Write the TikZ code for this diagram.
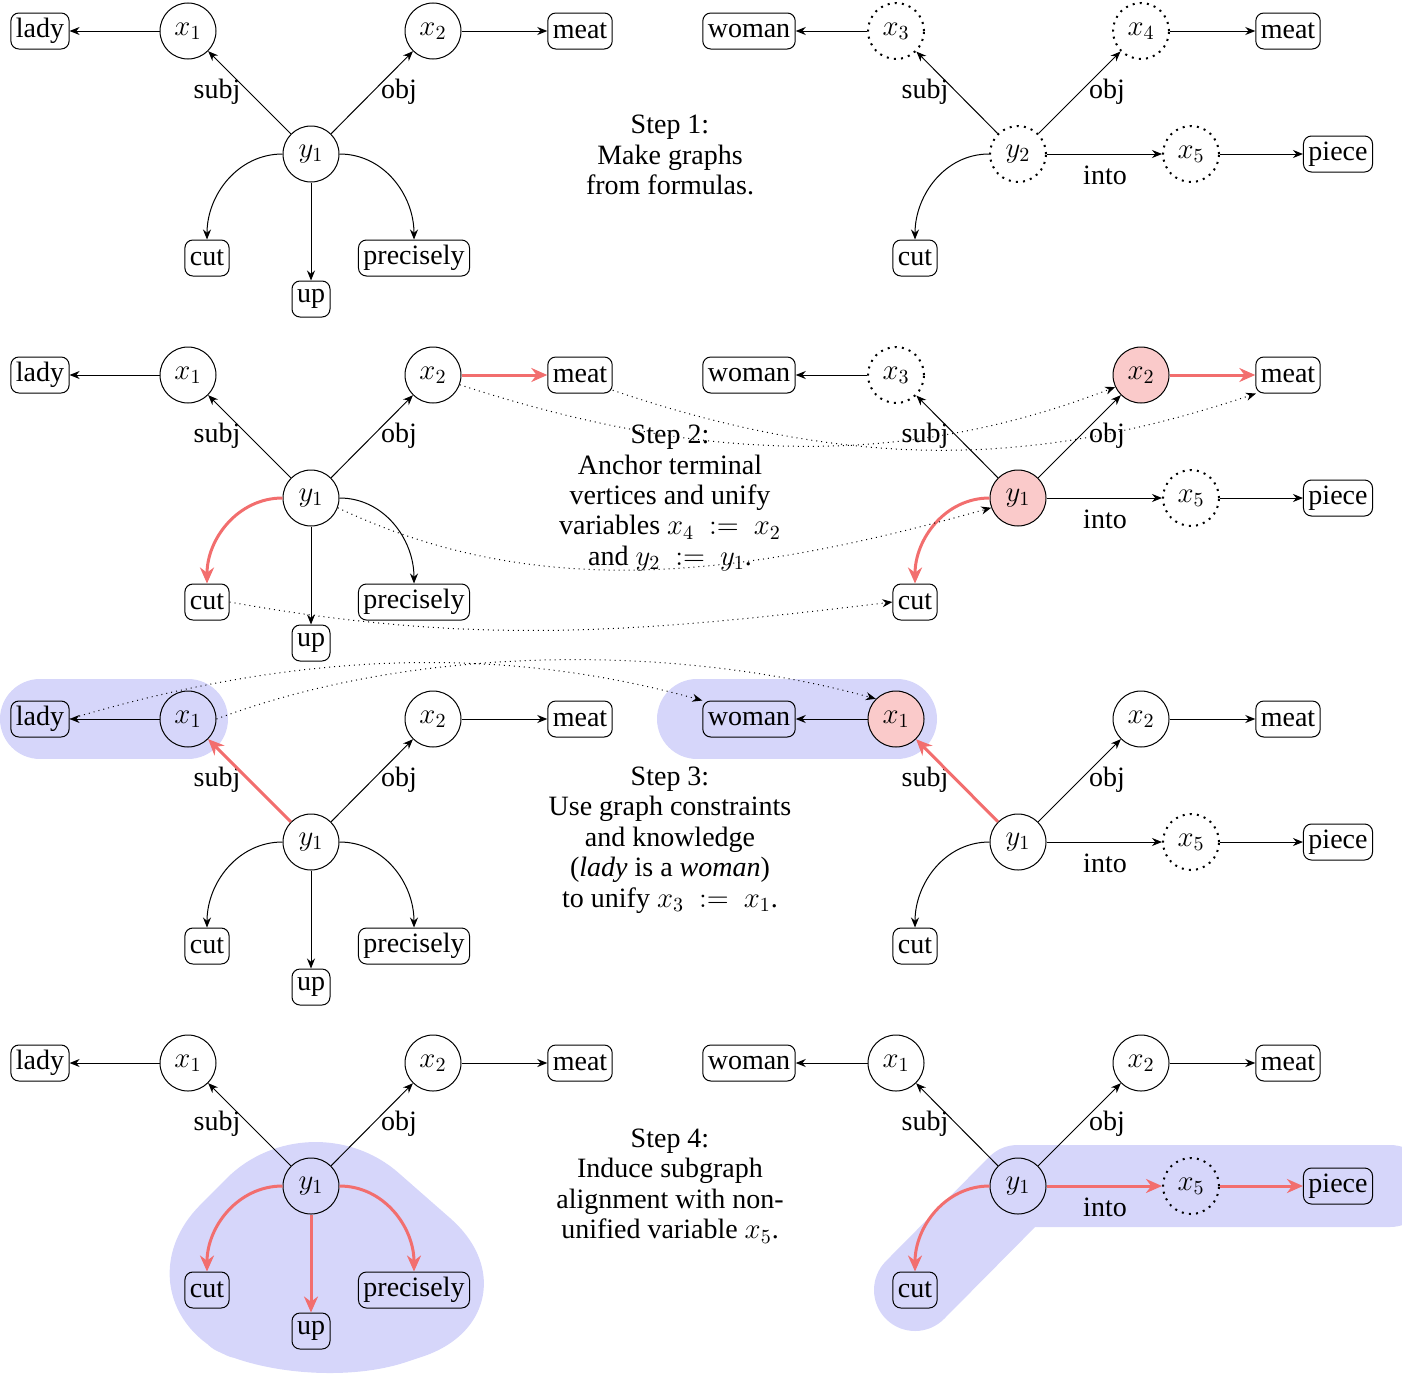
\documentclass[tikz,border=0pt]{standalone}
\usepackage{fontspec}
\setmainfont{Liberation Serif}
\usetikzlibrary{arrows.meta}
\definecolor{redc}{RGB}{242,110,110}
\definecolor{pinkc}{RGB}{250,202,202}
\definecolor{bluec}{RGB}{214,214,250}
\tikzset{
  v/.style={circle,draw,minimum size=28pt,inner sep=0pt,line width=0.5pt},
  dv/.style={v,line width=1pt,dash pattern=on 1pt off 2.6pt},
  pv/.style={v,fill=pinkc},
  w/.style={rectangle,rounded corners=4pt,draw,inner sep=2.5pt,minimum height=18pt,line width=0.5pt},
  e/.style={-{Stealth[length=5pt,width=4pt]},line width=0.5pt},
  re/.style={-{Stealth[length=8pt,width=7pt]},line width=1.5pt,draw=redc},
  dots/.style={dotted,-{Stealth[length=5pt,width=4pt]},line width=0.5pt},
  lab/.style={inner sep=0pt},
}
\newcommand{\LeftNodes}[4]{% suffix, ystyle, x1style, x2style
  \node[#2] (L#1y) at (311,154) {$y_1$};
  \node[#3] (L#1x1) at (188,31) {$x_1$};
  \node[#4] (L#1x2) at (433,31) {$x_2$};
  \node[w] (L#1lady) at (40,31) {lady};
  \node[w] (L#1meat) at (580,31) {meat};
  \node[w] (L#1cut) at (207,258) {cut};
  \node[w] (L#1up) at (311,299) {up};
  \node[w] (L#1prec) at (414,258) {precisely};
  \node[lab] at (217,92) {subj};
  \node[lab] at (399,92) {obj};
}
\newcommand{\LeftEdges}[6]{% suffix, x1, cut, up, prec, meat
  \draw[#2] (L#1y) -- (L#1x1);
  \draw[e] (L#1y) -- (L#1x2);
  \draw[#3] (L#1y.west) to[out=180,in=90] (L#1cut.north);
  \draw[#4] (L#1y) -- (L#1up);
  \draw[#5] (L#1y.east) to[out=0,in=90] (L#1prec.north);
  \draw[e] (L#1x1) -- (L#1lady);
  \draw[#6] (L#1x2) -- (L#1meat);
}
\newcommand{\RightNodes}[7]{% suffix, ystyle, ytext, xastyle, xatext, xbstyle, xbtext
  \node[#2] (R#1y) at (1018,154) {#3};
  \node[#4] (R#1xa) at (896,31) {#5};
  \node[#6] (R#1xb) at (1141,31) {#7};
  \node[dv] (R#1x5) at (1191,154) {$x_5$};
  \node[w] (R#1w) at (749,31) {woman};
  \node[w] (R#1meat) at (1288,31) {meat};
  \node[w] (R#1piece) at (1338,154) {piece};
  \node[w] (R#1cut) at (915,258) {cut};
  \node[lab] at (925,92) {subj};
  \node[lab] at (1107,92) {obj};
  \node[lab] at (1105,175) {into};
}
\newcommand{\RightEdges}[6]{% suffix, xa, cut, into, piece, meat
  \draw[#2] (R#1y) -- (R#1xa);
  \draw[e] (R#1y) -- (R#1xb);
  \draw[#3] (R#1y.west) to[out=180,in=90] (R#1cut.north);
  \draw[#4] (R#1y) -- (R#1x5);
  \draw[#5] (R#1x5) -- (R#1piece);
  \draw[e] (R#1xa) -- (R#1w);
  \draw[#6] (R#1xb) -- (R#1meat);
}
\begin{document}
\begin{tikzpicture}[x=0.5pt,y=-0.5pt,font=\fontsize{14}{15.2}\selectfont]
\useasboundingbox (0,0) rectangle (1402,1376);
% blobs
\begin{scope}
\clip (0,0) rectangle (1402,1376);
\draw[bluec,line width=40pt,line cap=round] (40,719) -- (188,719);
\draw[bluec,line width=40pt,line cap=round] (697,719) -- (897,719);
\draw[bluec,fill=bluec,line width=30pt,line join=round,rounded corners=45pt] (311,1136) -- (498,1300) -- (311,1362) -- (158,1290) -- cycle;
\draw[bluec,line width=41pt,line cap=round,line join=round] (915,1290) -- (1018,1186) -- (1390,1186);
\end{scope}
% row 1
\LeftNodes{1}{v}{v}{v}
\LeftEdges{1}{e}{e}{e}{e}{e}
\RightNodes{1}{dv}{$y_2$}{dv}{$x_3$}{dv}{$x_4$}
\RightEdges{1}{e}{e}{e}{e}{e}
\node[align=center] at (670,155) {Step 1:\\Make graphs\\from formulas.};
% row 2
\begin{scope}[shift={(0,344)}]
\LeftNodes{2}{v}{v}{v}
\RightNodes{2}{pv}{$y_1$}{dv}{$x_3$}{pv}{$x_2$}
\node[align=center] at (670,154) {Step 2:\\Anchor terminal\\vertices and unify\\variables $x_4\ :=\ x_2$\\and $y_2\ :=\ y_1$.};
\end{scope}
\LeftEdges{2}{e}{re}{e}{e}{re}
\RightEdges{2}{e}{re}{e}{e}{re}
\draw[dots] (L2x2.-20) .. controls +(230,75) and +(-220,85) .. (R2xb.205);
\draw[dots] (L2meat.-25) .. controls +(250,85) and +(-210,70) .. (R2meat.210);
\draw[dots] (L2y.-20) .. controls +(200,95) and +(-250,70) .. (R2y.200);
\draw[dots] (L2cut.east) .. controls +(250,45) and +(-250,30) .. (R2cut.west);
% row 3
\begin{scope}[shift={(0,688)}]
\LeftNodes{3}{v}{v}{v}
\RightNodes{3}{v}{$y_1$}{pv}{$x_1$}{v}{$x_2$}
\node[align=center] at (670,152) {Step 3:\\Use graph constraints\\and knowledge\\(\textit{lady} is a \textit{woman})\\to unify $x_3\ :=\ x_1$.};
\end{scope}
\LeftEdges{3}{re}{e}{e}{e}{e}
\RightEdges{3}{re}{e}{e}{e}{e}
\draw[dots] (L3lady.east) .. controls +(250,-75) and +(-180,-50) .. (R3w.north west);
\draw[dots] (L3x1.east) .. controls +(200,-75) and +(-200,-55) .. (R3xa.north west);
% row 4
\begin{scope}[shift={(0,1032)}]
\LeftNodes{4}{v}{v}{v}
\RightNodes{4}{v}{$y_1$}{v}{$x_1$}{v}{$x_2$}
\node[align=center] at (670,154) {Step 4:\\Induce subgraph\\alignment with non-\\unified variable $x_5$.};
\end{scope}
\LeftEdges{4}{e}{re}{re}{re}{e}
\RightEdges{4}{e}{re}{re}{re}{e}
\end{tikzpicture}
\end{document}
